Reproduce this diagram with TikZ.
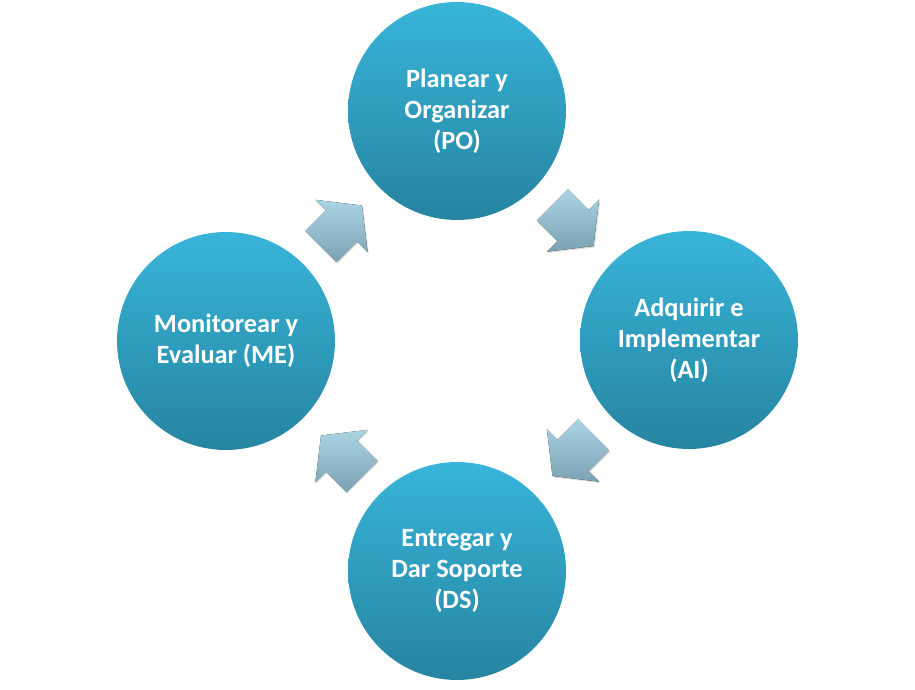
\documentclass[tikz,border=0pt]{standalone}
\usepackage{fontspec}
\setmainfont{Carlito}
\usepackage{tikz}
\usetikzlibrary{calc, shadows}
\definecolor{cyctop}{HTML}{38B5DA}
\definecolor{cycbot}{HTML}{2684A0}
\definecolor{arrtop}{HTML}{AAD4E4}
\definecolor{arrbot}{HTML}{7CA2B2}

\tikzset{
  phase/.style={circle, minimum size=4.36cm, inner sep=0pt,
    top color=cyctop, bottom color=cycbot, text=white, align=flush center,
    text width=3.6cm, font=\bfseries\fontsize{15}{17.6}\selectfont},
  flecha/.style={top color=arrtop, bottom color=arrbot,
    drop shadow={opacity=0.25, shadow xshift=0.6pt, shadow yshift=-0.8pt}}
}

\begin{document}
\begin{tikzpicture}[x=0.02cm, y=-0.02cm]
  \useasboundingbox (0,0) rectangle (915,689);
  % the four phases
  \node[phase] (po) at (457,111) {Planear y\\Organizar\\(PO)};
  \node[phase] (ai) at (689,340) {Adquirir e\\Implementar\\(AI)};
  \node[phase] (ds) at (457,571) {Entregar y\\Dar Soporte\\(DS)};
  \node[phase] (me) at (226,341) {Monitorear y\\Evaluar (ME)};
  % block arrows between them
  \foreach \a/\b/\ang in {po/ai/-45, ai/ds/-135, ds/me/135, me/po/45}
    \fill[flecha, shift={($(\a)!0.5!(\b)$)}, rotate=\ang]
      (-29,-22) -- (0,-22) -- (0,-37) -- (29,0) -- (0,37) -- (0,22)
      -- (-29,22) -- cycle;
\end{tikzpicture}
\end{document}
